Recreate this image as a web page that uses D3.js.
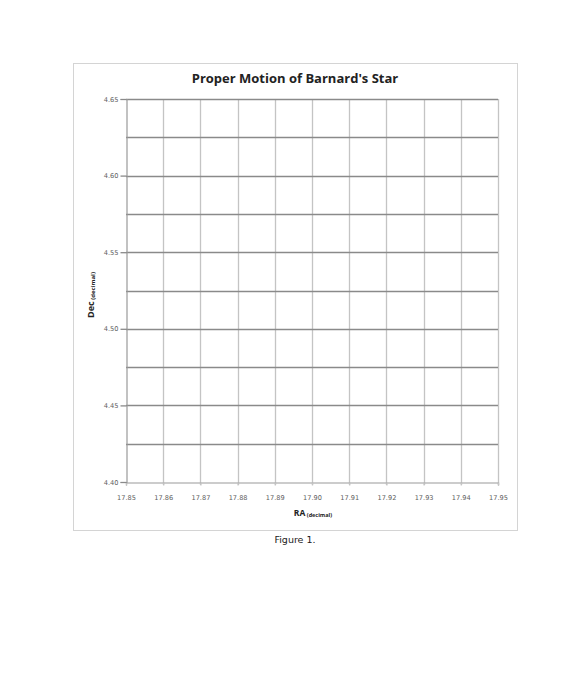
<!DOCTYPE html>
<html>
<head>
<meta charset="utf-8">
<script src="https://cdn.jsdelivr.net/npm/d3@7"></script>
<style>
  body { margin: 0; background: #fff; }
  svg { display: block; }
</style>
</head>
<body>
<div id="chart"></div>
<script>
// chart values
const xTicks = [17.85, 17.86, 17.87, 17.88, 17.89, 17.90, 17.91, 17.92, 17.93, 17.94, 17.95];
const yTicks = [4.40, 4.45, 4.50, 4.55, 4.60, 4.65];
const yGrid = [4.40, 4.425, 4.45, 4.475, 4.50, 4.525, 4.55, 4.575, 4.60, 4.625, 4.65];
const xDomain = [17.85, 17.95];
const yDomain = [4.40, 4.65];
const title = "Proper Motion of Barnard's Star";
const caption = "Figure 1.";

const WIDTH = 588;
const HEIGHT = 700;
const plot = { left: 126, top: 99, right: 498, bottom: 482 };

const x = d3.scaleLinear().domain(xDomain).range([plot.left, plot.right]);
const y = d3.scaleLinear().domain(yDomain).range([plot.bottom, plot.top]);

const svg = d3
  .select("#chart")
  .append("svg")
  .attr("width", WIDTH)
  .attr("height", HEIGHT);

// chart frame
svg
  .append("rect")
  .attr("x", 73.5)
  .attr("y", 63.5)
  .attr("width", 444)
  .attr("height", 467)
  .style("fill", "#fff")
  .style("stroke", "#d4d4d4");

// vertical gridlines (light)
svg
  .selectAll("line.vgrid")
  .data(xTicks.slice(1))
  .enter()
  .append("line")
  .attr("class", "vgrid")
  .attr("x1", (d) => Math.round(x(d)) + 0.5)
  .attr("x2", (d) => Math.round(x(d)) + 0.5)
  .attr("y1", plot.top)
  .attr("y2", plot.bottom + 3)
  .style("stroke", "#c4c4c4")
  .style("stroke-width", 1.3);

// horizontal gridlines (dark)
svg
  .selectAll("line.hgrid")
  .data(yGrid.slice(1))
  .enter()
  .append("line")
  .attr("class", "hgrid")
  .attr("x1", plot.left)
  .attr("x2", plot.right)
  .attr("y1", (d) => Math.round(y(d)) + 0.5)
  .attr("y2", (d) => Math.round(y(d)) + 0.5)
  .style("stroke", "#8a8a8a")
  .style("stroke-width", 1.3);

// x axis
const xAxis = svg
  .append("g")
  .attr("transform", `translate(0,${plot.bottom + 0.5})`)
  .call(d3.axisBottom(x).tickValues(xTicks).tickFormat(d3.format(".2f")).tickSize(3).tickPadding(10));
xAxis.select(".domain").style("stroke", "#9a9a9a").style("stroke-width", 1.2);
xAxis.selectAll(".tick line").style("stroke", "#c4c4c4").style("stroke-width", 1.3);
xAxis
  .selectAll(".tick text")
  .style("font-family", "Verdana, 'DejaVu Sans', sans-serif")
  .style("font-size", "6.6px")
  .style("fill", "#606060");

// y axis
const yAxis = svg
  .append("g")
  .attr("transform", `translate(${plot.left + 0.5},0)`)
  .call(d3.axisLeft(y).tickValues(yTicks).tickFormat(d3.format(".2f")).tickSize(6).tickPadding(2));
yAxis.select(".domain").style("stroke", "#9a9a9a").style("stroke-width", 1.2);
yAxis.selectAll(".tick line").style("stroke", "#8a8a8a").style("stroke-width", 1.3);
yAxis
  .selectAll(".tick text")
  .style("font-family", "Verdana, 'DejaVu Sans', sans-serif")
  .style("font-size", "6.6px")
  .style("fill", "#606060");

// title
svg
  .append("text")
  .attr("x", 295)
  .attr("y", 83)
  .attr("text-anchor", "middle")
  .style("font-family", "'Open Sans', sans-serif")
  .style("font-weight", "bold")
  .style("font-size", "13px")
  .style("fill", "#222")
  .text(title);

// x axis title
const xTitle = svg
  .append("text")
  .attr("x", 313)
  .attr("y", 516)
  .attr("text-anchor", "middle")
  .style("font-family", "'Open Sans', sans-serif")
  .style("fill", "#222");
xTitle.append("tspan").style("font-weight", "bold").style("font-size", "8.5px").text("RA");
xTitle.append("tspan").attr("dy", 1).style("font-weight", "bold").style("font-size", "5.5px").text(" (decimal)");

// y axis title
const yTitle = svg
  .append("text")
  .attr("transform", "translate(94,295) rotate(-90)")
  .attr("text-anchor", "middle")
  .style("font-family", "'Open Sans', sans-serif")
  .style("fill", "#222");
yTitle.append("tspan").style("font-weight", "bold").style("font-size", "9px").text("Dec");
yTitle.append("tspan").attr("dy", 1).style("font-weight", "bold").style("font-size", "6px").text(" (decimal)");

// caption
svg
  .append("text")
  .attr("x", 295)
  .attr("y", 543)
  .attr("text-anchor", "middle")
  .style("font-family", "Verdana, 'DejaVu Sans', sans-serif")
  .style("font-size", "9.5px")
  .style("fill", "#222")
  .text(caption);
</script>
</body>
</html>
